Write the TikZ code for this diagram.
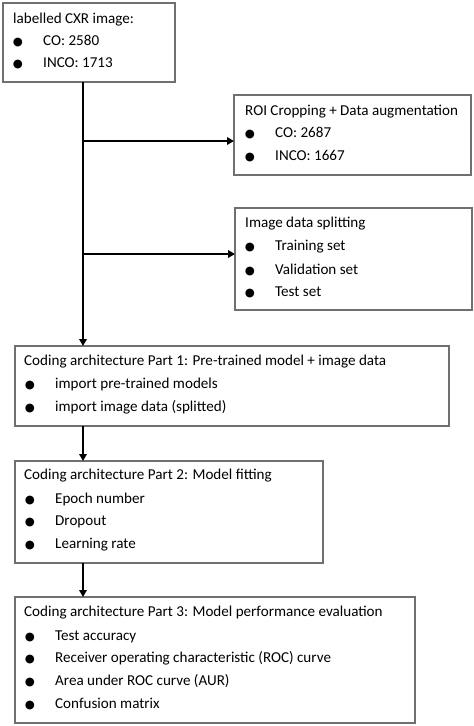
\documentclass[tikz,border=0pt]{standalone}
\usepackage{fontspec}
\setmainfont{Carlito}
\newfontfamily\dvs{DejaVu Sans}
\usetikzlibrary{arrows.meta}
\definecolor{boxgray}{HTML}{707070}
\newcommand{\bulsym}{{\dvs\fontsize{11.5}{13}\selectfont ●}}
\tikzset{
  box/.style={draw=boxgray, line width=1.3pt, inner sep=0pt, outer sep=0pt, anchor=north west},
  txt/.style={anchor=mid west, inner sep=0pt, font=\fontsize{15.1}{17}\selectfont},
  bul/.style={anchor=center, inner sep=0pt},
  conn/.style={line width=2.6pt, -{Triangle[length=7pt,width=7.5pt]}},
  trunk/.style={line width=2.6pt}
}
\begin{document}
\begin{tikzpicture}[x=1pt,y=-1pt]
\useasboundingbox (0,0) rectangle (474,726);
% boxes
\node[box, minimum width=172pt, minimum height=79pt] (b1) at (3,3) {};
\node[box, minimum width=237pt, minimum height=80pt] (roi) at (234,95) {};
\node[box, minimum width=237pt, minimum height=102pt] (split) at (235,208) {};
\node[box, minimum width=434pt, minimum height=80pt] (p1) at (15,346) {};
\node[box, minimum width=308pt, minimum height=102pt] (p2) at (15,461) {};
\node[box, minimum width=400pt, minimum height=126pt] (p3) at (15,597) {};
% box 1 text
\node[txt] (b1t) at (13,21) {labelled CXR image:};
\node[bul] (b1b1) at (18,43) {\bulsym};
\node[txt] (b1l1) at (43,43) {CO: 2580};
\node[bul] (b1b2) at (18,65) {\bulsym};
\node[txt] (b1l2) at (43,65) {INCO: 1713};
% roi text
\node[txt] (roit) at (245,113) {ROI Cropping + Data augmentation};
\node[bul] (roib1) at (250,135) {\bulsym};
\node[txt] (roil1) at (275,135) {CO: 2687};
\node[bul] (roib2) at (250,158) {\bulsym};
\node[txt] (roil2) at (275,158) {INCO: 1667};
% split text
\node[txt] (spt) at (245,225) {Image data splitting};
\node[bul] (spb1) at (250,248) {\bulsym};
\node[txt] (spl1) at (275,248) {Training set};
\node[bul] (spb2) at (250,272) {\bulsym};
\node[txt] (spl2) at (275,272) {Validation set};
\node[bul] (spb3) at (250,294) {\bulsym};
\node[txt] (spl3) at (275,294) {Test set};
% part 1
\node[txt] (p1t) at (24,363) {Coding architecture Part 1: Pre-trained model + image data};
\node[bul] (p1b1) at (30,386) {\bulsym};
\node[txt] (p1l1) at (55,386) {import pre-trained models};
\node[bul] (p1b2) at (30,409) {\bulsym};
\node[txt] (p1l2) at (55,409) {import image data (splitted)};
% part 2
\node[txt] (p2t) at (24,477) {Coding architecture Part 2: Model fitting};
\node[bul] (p2b1) at (30,501) {\bulsym};
\node[txt] (p2l1) at (55,501) {Epoch number};
\node[bul] (p2b2) at (30,523) {\bulsym};
\node[txt] (p2l2) at (55,523) {Dropout};
\node[bul] (p2b3) at (30,546) {\bulsym};
\node[txt] (p2l3) at (55,546) {Learning rate};
% part 3
\node[txt] (p3t) at (24,614) {Coding architecture Part 3: Model performance evaluation};
\node[bul] (p3b1) at (30,638) {\bulsym};
\node[txt] (p3l1) at (55,638) {Test accuracy};
\node[bul] (p3b2) at (30,660) {\bulsym};
\node[txt] (p3l2) at (55,660) {Receiver operating characteristic (ROC) curve};
\node[bul] (p3b3) at (30,683) {\bulsym};
\node[txt] (p3l3) at (55,683) {Area under ROC curve (AUR)};
\node[bul] (p3b4) at (30,706) {\bulsym};
\node[txt] (p3l4) at (55,706) {Confusion matrix};
% connectors
\coordinate (top) at (83,82);
\coordinate (j1) at (83,141);
\coordinate (j2) at (83,254);
\draw[conn] (top) -- (top |- p1.north);
\draw[conn] (j1) -- (j1 -| roi.west);
\draw[conn] (j2) -- (j2 -| split.west);
\draw[conn] (p1.south -| top) -- (top |- p2.north);
\draw[conn] (p2.south -| top) -- (top |- p3.north);
\end{tikzpicture}
\end{document}
